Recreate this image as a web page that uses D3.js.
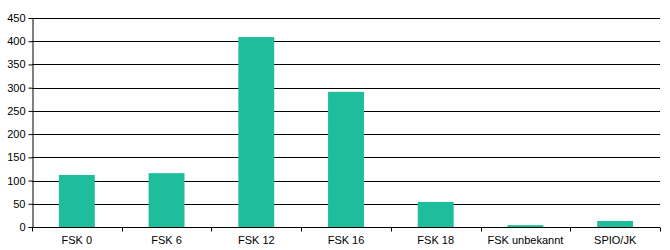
<!DOCTYPE html>
<meta charset="utf-8">
<title>FSK</title>
<style>
body { margin: 0; background: #fff; }
text { font-family: "Liberation Sans", Arial, sans-serif; font-size: 11px; fill: #000; }
.bar { fill: #1ebd9b; }
</style>
<body>
<svg width="670" height="250"></svg>
<script src="https://d3js.org/d3.v7.min.js"></script>
<script>
var categories = ["FSK 0", "FSK 6", "FSK 12", "FSK 16", "FSK 18", "FSK unbekannt", "SPIO/JK"];
var values = [112, 116, 409, 291, 54, 4, 13];
var yTicks = [0, 50, 100, 150, 200, 250, 300, 350, 400, 450];

var svg = d3.select("svg"),
    margin = {top: 18, right: 10, bottom: 23, left: 32},
    width = +svg.attr("width") - margin.left - margin.right,
    height = +svg.attr("height") - margin.top - margin.bottom;

var x = d3.scaleBand().domain(categories).range([0, width]).padding(0),
    y = d3.scaleLinear().domain([0, 450]).range([height, 0]);

var g = svg.append("g")
    .attr("transform", "translate(" + margin.left + "," + margin.top + ")");

// grid lines
g.selectAll(".grid")
  .data(yTicks.slice(1))
  .enter().append("line")
    .attr("x1", 0).attr("x2", width)
    .attr("y1", function(d) { return Math.round(y(d)) + 0.5; })
    .attr("y2", function(d) { return Math.round(y(d)) + 0.5; })
    .attr("stroke", "#000");

// bars
var bw = x.bandwidth() * 0.4;
g.selectAll(".bar")
  .data(values)
  .enter().append("rect")
    .attr("class", "bar")
    .attr("x", function(d, i) { return x(categories[i]) + (x.bandwidth() - bw) / 2; })
    .attr("y", function(d) { return y(d); })
    .attr("width", bw)
    .attr("height", function(d) { return height - y(d); });

// y axis
var yAxis = g.append("g")
    .attr("transform", "translate(0.5,0)")
    .call(d3.axisLeft(y).tickValues(yTicks).tickSize(4).tickPadding(3).tickSizeOuter(0));
yAxis.select(".domain").attr("stroke", "#000");

// x axis with ticks at category boundaries
var xg = g.append("g").attr("transform", "translate(0," + (Math.round(height) + 0.5) + ")");
xg.append("line").attr("x1", 0).attr("x2", width).attr("stroke", "#000");
var bounds = categories.map(function(c) { return x(c); }).concat([width]);
xg.selectAll(".tk")
  .data(bounds)
  .enter().append("line")
    .attr("x1", function(d) { return Math.round(d) + 0.5; })
    .attr("x2", function(d) { return Math.round(d) + 0.5; })
    .attr("y1", 0).attr("y2", 4)
    .attr("stroke", "#000");
xg.selectAll(".lbl")
  .data(categories)
  .enter().append("text")
    .attr("x", function(d) { return x(d) + x.bandwidth() / 2; })
    .attr("y", 16)
    .attr("text-anchor", "middle")
    .text(function(d) { return d; });
</script>
</body>
